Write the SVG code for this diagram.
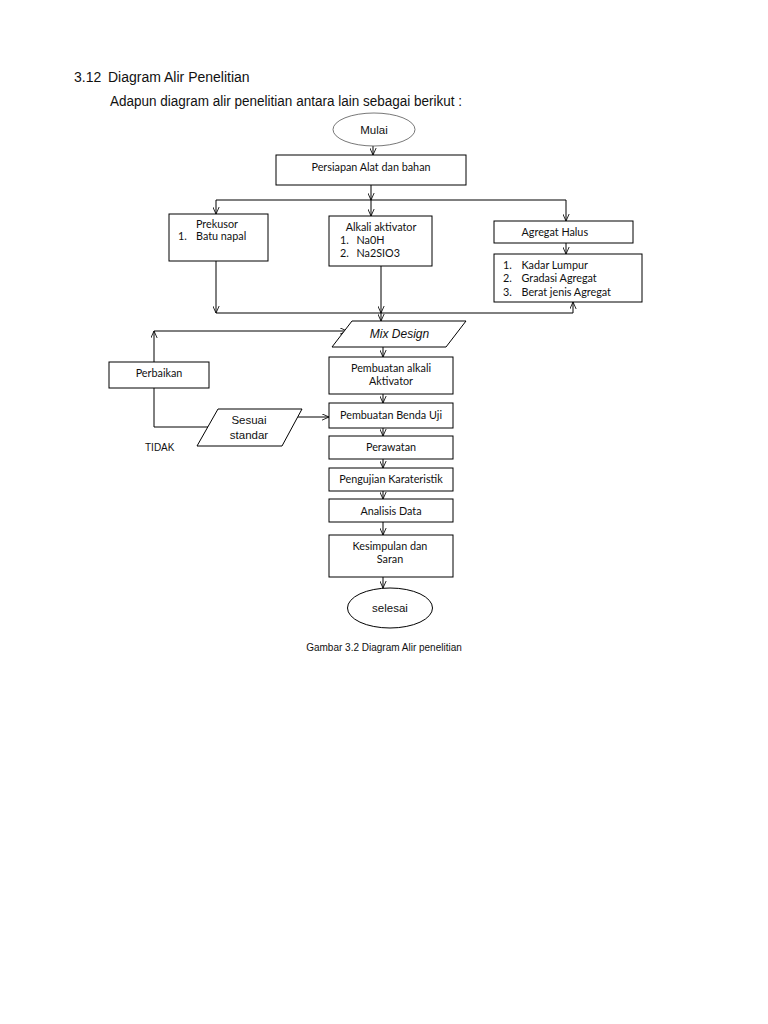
<svg xmlns="http://www.w3.org/2000/svg" width="768" height="1024" viewBox="0 0 768 1024">
<style>
.bg{fill:#ffffff}
.box{fill:#ffffff;stroke:#000000;stroke-width:1}
.term{fill:#ffffff;stroke:#000000;stroke-width:1}
.c{fill:none;stroke:#000000;stroke-width:1}
.t{font-family:Lato,"Liberation Sans",sans-serif;font-size:10.8px;fill:#111111}
.a{font-family:"Liberation Sans",Arial,sans-serif;fill:#111111}
.m{text-anchor:middle}
</style>
<defs>
<marker id="arr" viewBox="0 0 10 10" refX="10" refY="5" markerWidth="7" markerHeight="7" markerUnits="userSpaceOnUse" orient="auto">
<path d="M0,0.5 L10,5 L0,9.5" fill="none" stroke="#000000" stroke-width="1.2"/>
</marker>
</defs>
<rect class="bg" x="0" y="0" width="768" height="1024"/>
<g id="heading">
<text class="a" x="74" y="81.5" font-size="14">3.12</text>
<text class="a" x="108" y="81.5" font-size="14">Diagram Alir Penelitian</text>
<text class="a" x="110" y="105.5" font-size="14" textLength="352" lengthAdjust="spacingAndGlyphs">Adapun diagram alir penelitian antara lain sebagai berikut :</text>
</g>
<g id="connectors">
<path class="c" d="M373,146 V155" marker-end="url(#arr)"/>
<path class="c" d="M371,185 V200" marker-end="url(#arr)"/>
<path class="c" d="M216,200 H566"/>
<path class="c" d="M216,200 V214" marker-end="url(#arr)"/>
<path class="c" d="M371,200 V216" marker-end="url(#arr)"/>
<path class="c" d="M566,200 V221" marker-end="url(#arr)"/>
<path class="c" d="M566,243 V254" marker-end="url(#arr)"/>
<path class="c" d="M216,261 V313" marker-end="url(#arr)"/>
<path class="c" d="M381,266 V313" marker-end="url(#arr)"/>
<path class="c" d="M216,313 H573"/>
<path class="c" d="M573,313 V302" marker-end="url(#arr)"/>
<path class="c" d="M381,313 V321" marker-end="url(#arr)"/>
<path class="c" d="M383,347 V357" marker-end="url(#arr)"/>
<path class="c" d="M383,394 V403" marker-end="url(#arr)"/>
<path class="c" d="M383,428 V436" marker-end="url(#arr)"/>
<path class="c" d="M383,459 V468" marker-end="url(#arr)"/>
<path class="c" d="M383,491 V499" marker-end="url(#arr)"/>
<path class="c" d="M383,522 V535" marker-end="url(#arr)"/>
<path class="c" d="M383,577 V588" marker-end="url(#arr)"/>
<path class="c" d="M298,417 H329" marker-end="url(#arr)"/>
<path class="c" d="M208,427 H154 V388"/>
<path class="c" d="M154,362 V331" marker-end="url(#arr)"/>
<path class="c" d="M154,331 H347" marker-end="url(#arr)"/>
</g>
<g id="mulai">
<ellipse cx="374" cy="129.5" rx="41" ry="16.5" fill="#ffffff" stroke="#555555" stroke-width="0.8"/>
<text class="a m" x="374" y="133.5" font-size="11.5">Mulai</text>
</g>
<g id="persiapan">
<rect class="box" x="276" y="155" width="190" height="30"/>
<text class="t m" x="371" y="170.5">Persiapan Alat dan bahan</text>
</g>
<g id="prekusor">
<rect class="box" x="169" y="214" width="99" height="47"/>
<text class="t m" x="217" y="228">Prekusor</text>
<text class="t" x="178" y="240">1.</text>
<text class="t" x="196" y="240">Batu napal</text>
</g>
<g id="alkali">
<rect class="box" x="329" y="216" width="103" height="50"/>
<text class="t m" x="381" y="231">Alkali aktivator</text>
<text class="t" x="340" y="243.5">1.</text>
<text class="t" x="356.5" y="243.5">Na0H</text>
<text class="t" x="340" y="256.5">2.</text>
<text class="t" x="356.5" y="256.5">Na2SIO3</text>
</g>
<g id="agregat">
<rect class="box" x="494" y="221" width="139" height="22"/>
<text class="t" x="521.5" y="235.5">Agregat Halus</text>
</g>
<g id="agregat-list">
<rect class="box" x="494" y="254" width="148" height="48"/>
<text class="t" x="503" y="268.5">1.</text>
<text class="t" x="521.5" y="268.5">Kadar Lumpur</text>
<text class="t" x="503" y="282">2.</text>
<text class="t" x="521.5" y="282">Gradasi Agregat</text>
<text class="t" x="503" y="295.5">3.</text>
<text class="t" x="521.5" y="295.5">Berat jenis Agregat</text>
</g>
<g id="mix-design">
<polygon class="box" points="352,321 466,321 446,347 332,347"/>
<text class="a m" x="399.5" y="337.5" font-size="12" font-style="italic">Mix Design</text>
</g>
<g id="perbaikan">
<rect class="box" x="109" y="362" width="100" height="26"/>
<text class="t m" x="159" y="376.5">Perbaikan</text>
</g>
<g id="sesuai">
<polygon class="box" points="218,409 302,409 282,446 197,446"/>
<text class="a m" x="249" y="424" font-size="11.5">Sesuai</text>
<text class="a m" x="249" y="439" font-size="11.5">standar</text>
</g>
<g id="tidak">
<text class="a" x="145" y="451" font-size="10" fill="#333333">TIDAK</text>
</g>
<g id="pembuatan-alkali">
<rect class="box" x="329" y="357" width="124" height="37"/>
<text class="t m" x="391" y="371.5">Pembuatan alkali</text>
<text class="t m" x="391" y="384.5">Aktivator</text>
</g>
<g id="benda-uji">
<rect class="box" x="329" y="403" width="124" height="25"/>
<text class="t m" x="391" y="418.5">Pembuatan Benda Uji</text>
</g>
<g id="perawatan">
<rect class="box" x="329" y="436" width="124" height="23"/>
<text class="t m" x="391" y="450.5">Perawatan</text>
</g>
<g id="pengujian">
<rect class="box" x="329" y="468" width="124" height="23"/>
<text class="t m" x="391" y="483">Pengujian Karateristik</text>
</g>
<g id="analisis">
<rect class="box" x="329" y="499" width="124" height="23"/>
<text class="t m" x="391" y="514.5">Analisis Data</text>
</g>
<g id="kesimpulan">
<rect class="box" x="329" y="535" width="124" height="42"/>
<text class="t m" x="390" y="549.5">Kesimpulan dan</text>
<text class="t m" x="390" y="563">Saran</text>
</g>
<g id="selesai">
<ellipse class="term" cx="390" cy="608" rx="42.5" ry="20"/>
<text class="a m" x="390" y="612" font-size="11.5">selesai</text>
</g>
<g id="caption">
<text class="a m" x="384" y="651" font-size="10" fill="#222222">Gambar 3.2 Diagram Alir penelitian</text>
</g>
</svg>
